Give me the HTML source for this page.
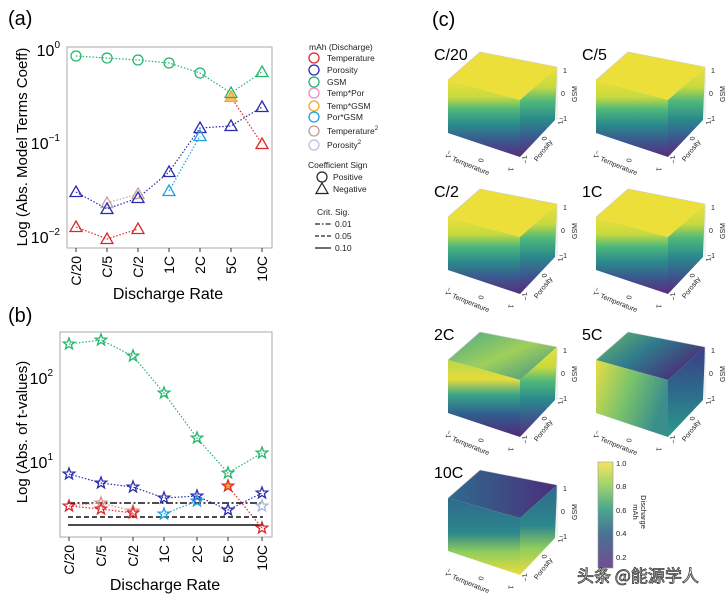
<!DOCTYPE html>
<html><head><meta charset="utf-8"><style>
html,body{margin:0;padding:0;background:#fff;}
svg{display:block;font-family:"Liberation Sans","Noto Sans CJK SC",sans-serif;}
</style></head><body>
<svg width="728" height="602" viewBox="0 0 728 602" xmlns="http://www.w3.org/2000/svg">
<defs>
<path id="tri" d="M0,-6 L6,4.5 L-6,4.5 Z"/>
<path id="star" d="M0,-6 L1.47,-2.02 L5.71,-1.85 L2.38,0.77 L3.53,4.85 L0,2.5 L-3.53,4.85 L-2.38,0.77 L-5.71,-1.85 L-1.47,-2.02 Z"/>
<linearGradient id="gA" x1="0" y1="0" x2="0" y2="1">
<stop offset="0" stop-color="#eadf3a"/><stop offset="0.22" stop-color="#c8da3e"/><stop offset="0.38" stop-color="#4fb87a"/><stop offset="0.58" stop-color="#2a8a8c"/><stop offset="0.78" stop-color="#3a5a8e"/><stop offset="1" stop-color="#5a2c7c"/></linearGradient>
<linearGradient id="gB" x1="0" y1="0" x2="0" y2="1">
<stop offset="0" stop-color="#b9d64a"/><stop offset="0.25" stop-color="#e6dc3a"/><stop offset="0.45" stop-color="#3aa58a"/><stop offset="0.7" stop-color="#2f5f8e"/><stop offset="1" stop-color="#55287a"/></linearGradient>
<linearGradient id="gBt" x1="0" y1="0" x2="1" y2="1">
<stop offset="0" stop-color="#4aa98a"/><stop offset="0.5" stop-color="#9fcf5a"/><stop offset="1" stop-color="#3a8f8c"/></linearGradient>
<linearGradient id="gC" x1="0" y1="0" x2="1" y2="0.4">
<stop offset="0" stop-color="#e9dd45"/><stop offset="0.5" stop-color="#7cc46a"/><stop offset="1" stop-color="#3a8e8c"/></linearGradient>
<linearGradient id="gCt" x1="0" y1="0" x2="1" y2="0.6">
<stop offset="0" stop-color="#6dbb6a"/><stop offset="0.5" stop-color="#2f7a8c"/><stop offset="1" stop-color="#4a2a78"/></linearGradient>
<linearGradient id="gCr" x1="0" y1="0" x2="0" y2="1">
<stop offset="0" stop-color="#3a3d86"/><stop offset="0.5" stop-color="#2e6a8c"/><stop offset="1" stop-color="#2c9a8a"/></linearGradient>
<linearGradient id="gD" x1="0" y1="0" x2="0" y2="1">
<stop offset="0" stop-color="#2f6a8c"/><stop offset="0.45" stop-color="#2c868c"/><stop offset="0.7" stop-color="#8fcc5e"/><stop offset="1" stop-color="#ecdd3c"/></linearGradient>
<linearGradient id="gDt" x1="0" y1="0" x2="1" y2="0">
<stop offset="0" stop-color="#2f6a8c"/><stop offset="1" stop-color="#4a2f7c"/></linearGradient>
<linearGradient id="cb" x1="0" y1="0" x2="0" y2="1">
<stop offset="0" stop-color="#f6e55e"/><stop offset="0.22" stop-color="#9fd26e"/><stop offset="0.45" stop-color="#4aa68f"/><stop offset="0.68" stop-color="#4a7196"/><stop offset="1" stop-color="#6f4f92"/></linearGradient>
<g id="axlab" font-size="7" fill="#222">
<text x="563" y="73">1</text><text x="561" y="96">0</text><text x="559" y="121">−1</text>
<text transform="translate(577,94) rotate(-90)" text-anchor="middle">GSM</text>
<text transform="translate(470,168) rotate(22)" text-anchor="middle">Temperature</text>
<text transform="translate(545,152) rotate(-52)" text-anchor="middle">Porosity</text>
<text transform="translate(447,150) rotate(100)">−1</text>
<text transform="translate(479,158) rotate(100)">0</text>
<text transform="translate(509,167) rotate(100)">1</text>
<text transform="translate(528,163) rotate(-100)">−1</text>
<text transform="translate(547,140) rotate(-100)">0</text>
<text transform="translate(563,124) rotate(-100)">1</text>
</g>
<g id="frame" stroke="#ccc" stroke-width="0.6" fill="none"><polyline points="448,80 480,52 557,67"/><line x1="557" y1="67" x2="557" y2="120"/></g>
<g id="cubeA">
<polygon points="448,80 480,52 557,67 520,100" fill="#ecdf3a"/>
<polygon points="448,80 520,100 520,157 448,133" fill="url(#gA)"/>
<polygon points="520,100 557,67 555,120 520,157" fill="url(#gA)"/>
<use href="#frame"/>
<use href="#axlab"/>
</g>
</defs>

<!-- ============ Panel (a) ============ -->
<text x="8" y="25" font-size="20">(a)</text>
<rect x="67" y="47" width="205" height="201" fill="none" stroke="#aaa" stroke-width="1"/>
<g font-size="16">
<text x="60" y="56" text-anchor="end">10<tspan font-size="10" dy="-8">0</tspan></text>
<text x="60" y="149" text-anchor="end">10<tspan font-size="10" dy="-8">−1</tspan></text>
<text x="60" y="243" text-anchor="end">10<tspan font-size="10" dy="-8">−2</tspan></text>
</g>
<text transform="translate(27,147) rotate(-90)" font-size="15" text-anchor="middle">Log (Abs. Model Terms Coeff)</text>
<g stroke="#333" stroke-width="1">
<line x1="76" y1="248" x2="76" y2="252"/><line x1="107" y1="248" x2="107" y2="252"/><line x1="138" y1="248" x2="138" y2="252"/><line x1="169" y1="248" x2="169" y2="252"/><line x1="200" y1="248" x2="200" y2="252"/><line x1="231" y1="248" x2="231" y2="252"/><line x1="262" y1="248" x2="262" y2="252"/>
</g>
<g font-size="14">
<text transform="translate(81,256) rotate(-90)" text-anchor="end">C/20</text>
<text transform="translate(112,256) rotate(-90)" text-anchor="end">C/5</text>
<text transform="translate(143,256) rotate(-90)" text-anchor="end">C/2</text>
<text transform="translate(174,256) rotate(-90)" text-anchor="end">1C</text>
<text transform="translate(205,256) rotate(-90)" text-anchor="end">2C</text>
<text transform="translate(236,256) rotate(-90)" text-anchor="end">5C</text>
<text transform="translate(267,256) rotate(-90)" text-anchor="end">10C</text>
</g>
<text x="168" y="299" font-size="16" text-anchor="middle">Discharge Rate</text>

<g fill="none" stroke-width="1.2" stroke-dasharray="1.5 1.8">
<polyline points="76,56 107,58 138,60 169,63 200,73 231,93 262,72" stroke="#23b56e"/>
<polyline points="76,192 107,209 138,198 169,172 200,128 231,126 262,107" stroke="#2a2ab0"/>
<polyline points="76,227 107,239 138,229" stroke="#e0262b"/>
<polyline points="231,97 262,144" stroke="#e0262b"/>
<polyline points="169,191 200,136" stroke="#1f9fdf"/>
<polyline points="107,203 138,194" stroke="#c9a0a0"/>
</g>
<g fill="none" stroke-width="1.3">
<g stroke="#23b56e"><circle cx="76" cy="56" r="5"/><circle cx="107" cy="58" r="5"/><circle cx="138" cy="60" r="5"/><circle cx="169" cy="63" r="5"/><circle cx="200" cy="73" r="5"/><use href="#tri" transform="translate(262,72)"/></g>
<g stroke="#c9a0a0"><use href="#tri" transform="translate(107,203)"/><use href="#tri" transform="translate(138,194)"/></g>
<g stroke="#2a2ab0"><use href="#tri" transform="translate(76,192)"/><use href="#tri" transform="translate(107,209)"/><use href="#tri" transform="translate(138,198)"/><use href="#tri" transform="translate(169,172)"/><use href="#tri" transform="translate(200,128)"/><use href="#tri" transform="translate(231,126)"/><use href="#tri" transform="translate(262,107)"/></g>
<g stroke="#1f9fdf"><use href="#tri" transform="translate(169,191)"/><use href="#tri" transform="translate(200,136)"/></g>
<g stroke="#e0262b"><use href="#tri" transform="translate(76,227)"/><use href="#tri" transform="translate(107,239)"/><use href="#tri" transform="translate(138,229)"/><use href="#tri" transform="translate(262,144)"/></g>
<use href="#tri" transform="translate(231,97)" stroke="#f5a623" fill="#f5c070"/>
<use href="#tri" transform="translate(231,93)" stroke="#23b56e"/>
</g>

<!-- legend -->
<g font-size="8.5" fill="#222">
<text x="309" y="50">mAh (Discharge)</text>
<g fill="none" stroke-width="1.3">
<circle cx="314" cy="58" r="5" stroke="#e0262b"/>
<circle cx="314" cy="70" r="5" stroke="#2a2ab0"/>
<circle cx="314" cy="82" r="5" stroke="#23b56e"/>
<circle cx="314" cy="93" r="5" stroke="#e58ac9"/>
<circle cx="314" cy="106" r="5" stroke="#f5a623"/>
<circle cx="314" cy="117" r="5" stroke="#1f9fdf"/>
<circle cx="314" cy="131" r="5" stroke="#c49a9a"/>
<circle cx="314" cy="145" r="5" stroke="#b8c0e0"/>
</g>
<text x="327" y="61">Temperature</text>
<text x="327" y="73">Porosity</text>
<text x="327" y="85">GSM</text>
<text x="327" y="96">Temp*Por</text>
<text x="327" y="109">Temp*GSM</text>
<text x="327" y="120">Por*GSM</text>
<text x="327" y="134">Temperature<tspan font-size="6" dy="-4">2</tspan></text>
<text x="327" y="148">Porosity<tspan font-size="6" dy="-4">2</tspan></text>
<text x="308" y="168">Coefficient Sign</text>
<circle cx="322" cy="177" r="5" fill="none" stroke="#222" stroke-width="1.2"/>
<use href="#tri" transform="translate(322,189)" fill="none" stroke="#222" stroke-width="1.2"/>
<text x="333" y="180">Positive</text>
<text x="333" y="192">Negative</text>
<text x="317" y="215">Crit. Sig.</text>
<text x="335" y="227">0.01</text>
<text x="335" y="239">0.05</text>
<text x="335" y="251">0.10</text>
<g stroke="#222" stroke-width="1.3">
<line x1="315" y1="224" x2="331" y2="224" stroke-dasharray="5 2 1.5 2"/>
<line x1="315" y1="236" x2="331" y2="236" stroke-dasharray="4 2"/>
<line x1="315" y1="248" x2="331" y2="248"/>
</g>
</g>

<!-- ============ Panel (b) ============ -->
<text x="8" y="322" font-size="20">(b)</text>
<rect x="60" y="332" width="212" height="205" fill="none" stroke="#aaa" stroke-width="1"/>
<g font-size="16">
<text x="53" y="384" text-anchor="end">10<tspan font-size="10" dy="-8">2</tspan></text>
<text x="53" y="468" text-anchor="end">10<tspan font-size="10" dy="-8">1</tspan></text>
</g>
<text transform="translate(27,432) rotate(-90)" font-size="15" text-anchor="middle">Log (Abs. of t-values)</text>
<g stroke="#333" stroke-width="1">
<line x1="69" y1="537" x2="69" y2="541"/><line x1="101" y1="537" x2="101" y2="541"/><line x1="133" y1="537" x2="133" y2="541"/><line x1="164" y1="537" x2="164" y2="541"/><line x1="197" y1="537" x2="197" y2="541"/><line x1="228" y1="537" x2="228" y2="541"/><line x1="262" y1="537" x2="262" y2="541"/>
</g>
<g font-size="14">
<text transform="translate(74,545) rotate(-90)" text-anchor="end">C/20</text>
<text transform="translate(106,545) rotate(-90)" text-anchor="end">C/5</text>
<text transform="translate(138,545) rotate(-90)" text-anchor="end">C/2</text>
<text transform="translate(169,545) rotate(-90)" text-anchor="end">1C</text>
<text transform="translate(202,545) rotate(-90)" text-anchor="end">2C</text>
<text transform="translate(233,545) rotate(-90)" text-anchor="end">5C</text>
<text transform="translate(267,545) rotate(-90)" text-anchor="end">10C</text>
</g>
<text x="165" y="590" font-size="16" text-anchor="middle">Discharge Rate</text>

<g stroke="#111" stroke-width="1.4">
<line x1="68" y1="503" x2="263" y2="503" stroke-dasharray="7 2.5 2 2.5"/>
<line x1="68" y1="517" x2="263" y2="517" stroke-dasharray="5 3"/>
<line x1="68" y1="525" x2="263" y2="525"/>
</g>
<g fill="none" stroke-width="1.2" stroke-dasharray="1.5 1.8">
<polyline points="69,344 101,340 133,356 164,393 197,438 228,473 262,453" stroke="#23b56e"/>
<polyline points="69,474 101,483 133,487 164,498 197,496 228,510 262,493" stroke="#2a2ab0"/>
<polyline points="69,506 101,509 133,513" stroke="#e0262b"/>
<polyline points="69,506 101,503 133,511" stroke="#d88a8a"/>
<polyline points="228,486 262,528" stroke="#e0262b"/>
<polyline points="164,514 197,501" stroke="#1f9fdf"/>
</g>
<g fill="none" stroke-width="1.3">
<g stroke="#23b56e"><use href="#star" transform="translate(69,344)"/><use href="#star" transform="translate(101,340)"/><use href="#star" transform="translate(133,356)"/><use href="#star" transform="translate(164,393)"/><use href="#star" transform="translate(197,438)"/><use href="#star" transform="translate(228,473)"/><use href="#star" transform="translate(262,453)"/></g>
<g stroke="#2a2ab0"><use href="#star" transform="translate(69,474)"/><use href="#star" transform="translate(101,483)"/><use href="#star" transform="translate(133,487)"/><use href="#star" transform="translate(164,498)"/><use href="#star" transform="translate(197,496)"/><use href="#star" transform="translate(228,510)"/><use href="#star" transform="translate(262,493)"/></g>
<g stroke="#d88a8a"><use href="#star" transform="translate(101,503)"/><use href="#star" transform="translate(133,511)"/></g>
<g stroke="#e0262b"><use href="#star" transform="translate(69,506)"/><use href="#star" transform="translate(101,509)"/><use href="#star" transform="translate(133,513)"/><use href="#star" transform="translate(262,528)"/></g>
<g stroke="#1f9fdf"><use href="#star" transform="translate(164,514)"/><use href="#star" transform="translate(197,501)"/></g>
<use href="#star" transform="translate(262,506)" stroke="#aab4d9"/>
<use href="#star" transform="translate(228,486)" stroke="#e0262b" fill="#f5a623"/>
</g>

<!-- ============ Panel (c) ============ -->
<text x="432" y="26" font-size="20">(c)</text>
<g font-size="16">
<text x="434" y="60">C/20</text>
<text x="582" y="60">C/5</text>
<text x="434" y="197">C/2</text>
<text x="582" y="197">1C</text>
<text x="434" y="340">2C</text>
<text x="582" y="340">5C</text>
<text x="434" y="478">10C</text>
</g>
<use href="#cubeA"/>
<use href="#cubeA" transform="translate(148,0)"/>
<use href="#cubeA" transform="translate(0,137)"/>
<use href="#cubeA" transform="translate(148,137)"/>

<!-- 2C -->
<g transform="translate(0,280)">
<polygon points="448,80 480,52 557,67 520,100" fill="url(#gBt)"/>
<polygon points="448,80 520,100 520,157 448,133" fill="url(#gB)"/>
<polygon points="520,100 557,67 555,120 520,157" fill="url(#gA)"/>
<use href="#frame"/><use href="#axlab"/>
</g>
<!-- 5C -->
<g transform="translate(148,280)">
<polygon points="448,80 480,52 557,67 520,100" fill="url(#gCt)"/>
<polygon points="448,80 520,100 520,157 448,133" fill="url(#gC)"/>
<polygon points="520,100 557,67 555,120 520,157" fill="url(#gCr)"/>
<use href="#frame"/><use href="#axlab"/>
</g>
<!-- 10C -->
<g transform="translate(0,418)">
<polygon points="448,80 480,52 557,67 520,100" fill="url(#gDt)"/>
<polygon points="448,80 520,100 520,157 448,133" fill="url(#gD)"/>
<polygon points="520,100 557,67 555,120 520,157" fill="url(#gD)"/>
<use href="#frame"/><use href="#axlab"/>
</g>

<!-- colorbar -->
<rect x="598" y="462" width="15" height="106" fill="url(#cb)" stroke="#999" stroke-width="0.6"/>
<g font-size="7.5" fill="#222">
<text x="616" y="466">1.0</text><text x="616" y="489">0.8</text><text x="616" y="513">0.6</text><text x="616" y="536">0.4</text><text x="616" y="560">0.2</text>
<text transform="translate(633,512) rotate(90)" text-anchor="middle">mAh</text>
<text transform="translate(641,512) rotate(90)" text-anchor="middle">Discharge</text>
</g>

<!-- watermark -->
<text x="577" y="582" font-size="17" font-family="'Noto Sans CJK SC','WenQuanYi Zen Hei',sans-serif" fill="#fff" stroke="#333" stroke-width="0.8">头条 @能源学人</text>
</svg>
</body></html>
